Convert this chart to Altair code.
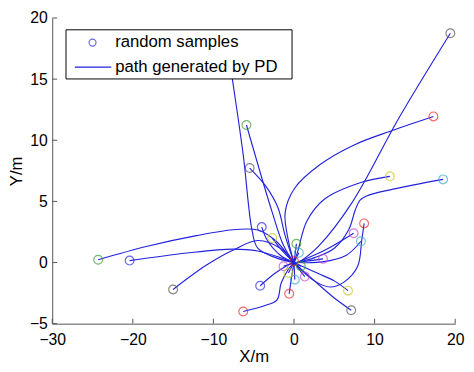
import altair as alt
import pandas as pd

x_ticks = [-30, -20, -10, 0, 10, 20]
y_ticks = [-5, 0, 5, 10, 15, 20]

sample_x = [19.4, 17.3, 11.9, 18.5, -5.9, -5.5, -8.2, -24.3, -20.4, -15.0, -6.3, -4.0, -2.7,
            0.3, 0.6, 0.0, 3.6, 7.4, 8.7, 8.3, 1.34, 0.1, -4.2, -0.6, 6.7, 7.1, -1.3, -0.7, 0.85]
sample_y = [18.75, 11.95, 7.05, 6.8, 11.25, 7.73, 17.5, 0.23, 0.16, -2.2, -4.0, 2.9, 2.0,
            1.54, 0.8, 0.1, 0.3, 2.4, 3.2, 1.74, -1.15, -1.4, -1.9, -2.55, -2.3, -3.9, -0.3, -0.85, -0.3]
sample_color = ["k", "r", "y", "c", "g", "k", "b", "g", "b", "k", "r", "b", "y",
                "g", "c", "r", "m", "m", "r", "c", "m", "c", "b", "r", "y", "k", "m", "y", "g"]

path_x = [
    [19.4, 13.0, 7.2, 3.0, 0.6],
    [17.3, 12.2, 7.4, 3.2, 0.1, -1.1, -0.7, 0.0],
    [11.9, 8.3, 3.8, 1.6, 0.5, 0.0],
    [18.5, 12.3, 9.0, 8.2, 7.6, 6.8, 5.0, 2.56, 0.4],
    [-5.9, -2.7, -1.3, 0.0],
    [-5.5, -3.5, -2.0, -1.1, 0.0],
    [-8.2, -7.6, -6.3, -5.2, -4.5, -2.3, 0.0],
    [-24.3, -18.2, -12.1, -7.2, -4.5, -2.3, -0.5, 0.0],
    [-20.4, -13.3, -7.6, -4.5, -1.7, 0.0],
    [-15.0, -10.9, -7.6, -4.5, -1.7, 0.0],
    [-6.3, -3.5, -2.1, -1.6, -0.7, 0.0],
    [-4.0, -3.3, -1.7, 0.0],
    [-2.7, -1.3, 0.0],
    [0.3, 0.0],
    [0.6, 0.0],
    [0.0, 0.0],
    [3.6, 1.5, 0.0],
    [7.4, 3.8, 0.7],
    [8.7, 8.4, 7.9, 6.2, 4.5, 2.5, 0.3],
    [8.3, 6.5, 3.5, 0.5],
    [1.34, 0.0],
    [0.1, 0.0],
    [-4.2, -2.4, -1.0, 0.0],
    [-0.6, -0.3, 0.0],
    [6.7, 5.0, 3.0, 1.0, 0.0],
    [7.1, 5.0, 2.2, 0.9, 0.0],
    [-1.3, 0.0],
    [-0.7, 0.0],
    [0.85, 0.0],
]
path_y = [
    [18.75, 11.8, 4.9, 1.3, 0.0],
    [11.95, 10.8, 9.6, 8.0, 6.1, 4.1, 1.8, 0.0],
    [7.05, 6.55, 5.2, 3.4, 1.0, 0.0],
    [6.8, 6.0, 5.45, 5.1, 4.3, 2.7, 1.17, 0.4, 0.0],
    [11.25, 4.1, 1.4, 0.0],
    [7.73, 6.25, 4.5, 2.2, 0.0],
    [17.5, 14.8, 8.8, 2.6, 1.17, 0.4, 0.0],
    [0.23, 1.33, 2.2, 2.7, 2.66, 1.8, 0.4, 0.0],
    [0.16, 0.78, 1.1, 0.94, 0.4, 0.0],
    [-2.2, -0.23, 1.0, 1.8, 1.17, 0.0],
    [-4.0, -3.5, -3.05, -1.7, -0.55, 0.0],
    [2.9, 1.8, 0.6, 0.0],
    [2.0, 0.85, 0.0],
    [1.54, 0.0],
    [0.8, 0.0],
    [0.1, 0.0],
    [0.3, 0.1, 0.0],
    [2.4, 1.0, 0.1],
    [3.2, 1.8, -0.3, -1.6, -2.0, -1.5, -0.2],
    [1.74, 0.6, 0.05, 0.0],
    [-1.15, 0.0],
    [-1.4, 0.0],
    [-1.9, -0.9, -0.3, 0.0],
    [-2.55, -1.2, 0.0],
    [-2.3, -1.5, -0.9, -0.3, 0.0],
    [-3.9, -2.9, -1.3, -0.55, 0.0],
    [-0.3, 0.0],
    [-0.85, 0.0],
    [-0.3, 0.0],
]

palette = {"b": "#2a2ae0", "g": "#3a9a3a", "r": "#ee2b2b", "c": "#3aaad8",
           "m": "#c845c8", "y": "#c8c828", "k": "#555555"}

rows = []
for i, (xs_, ys_) in enumerate(zip(path_x, path_y)):
    for j, (a, b) in enumerate(zip(xs_, ys_)):
        rows.append({"path": i, "order": j, "x": a, "y": b})
paths = pd.DataFrame(rows)
samples = pd.DataFrame({"x": sample_x, "y": sample_y,
                        "color": [palette[c] for c in sample_color]})

W, H = 410, 311
FONT = "Liberation Sans"
xs = alt.Scale(domain=[-30, 20], nice=False, zero=False)
ys = alt.Scale(domain=[-5, 20], nice=False, zero=False)

x_axis = alt.Axis(values=x_ticks, title="X/m", grid=False, ticks=False, labelPadding=8,
                  titlePadding=1, labelFlush=False)
y_axis = alt.Axis(values=y_ticks, title="Y/m", grid=False, ticks=False, labelPadding=5,
                  titlePadding=4, labelFlush=False)

X = alt.X("x:Q", scale=xs, axis=x_axis)
Y = alt.Y("y:Q", scale=ys, axis=y_axis)

lines = alt.Chart(paths).mark_line(color="#2222dd", strokeWidth=1.15,
                                   interpolate="catmull-rom").encode(
    x=X, y=Y, detail="path:N", order="order:O")

points = alt.Chart(samples).mark_point(shape="circle", filled=False, size=80,
                                       strokeWidth=1.2).encode(
    x=X, y=Y, color=alt.Color("color:N", scale=None))

xt = alt.Chart(pd.DataFrame({"x": x_ticks})).mark_rule(color="#555555").encode(
    x=X, y=alt.value(H), y2=alt.value(H - 5))
yt = alt.Chart(pd.DataFrame({"y": y_ticks})).mark_rule(color="#555555").encode(
    y=Y, x=alt.value(0), x2=alt.value(5))

one = pd.DataFrame({"a": [0]})
box = alt.Chart(one).mark_rect(fill="white", stroke="black", strokeWidth=1).encode(
    x=alt.value(14), x2=alt.value(244), y=alt.value(12), y2=alt.value(62))
leg_pt = alt.Chart(one).mark_point(shape="circle", filled=False, size=50, strokeWidth=1.2,
                                   color="#2a2ae0").encode(x=alt.value(41), y=alt.value(25))
leg_ln = alt.Chart(one).mark_rule(color="#2222dd", strokeWidth=1.15).encode(
    x=alt.value(23), x2=alt.value(60), y=alt.value(50))
leg_t1 = alt.Chart(one).mark_text(align="left", baseline="middle", fontSize=17, font=FONT,
                                  color="black").encode(
    x=alt.value(64), y=alt.value(25), text=alt.value("random samples"))
leg_t2 = alt.Chart(one).mark_text(align="left", baseline="middle", fontSize=17, font=FONT,
                                  color="black").encode(
    x=alt.value(64), y=alt.value(50), text=alt.value("path generated by PD"))

chart = alt.layer(lines, points, xt, yt, box, leg_pt, leg_ln, leg_t1, leg_t2).properties(
    width=W, height=H,
    padding={"left": 45, "top": 7, "right": 11, "bottom": 46},
    autosize=alt.AutoSizeParams(type="none"),
).configure_view(stroke=None).configure_axis(
    domainColor="#555555", labelFont=FONT, titleFont=FONT, labelFontSize=16,
    titleFontSize=17, titleFontWeight="normal", labelColor="black", titleColor="black",
)

chart.save("out.html", embed_options={"renderer": "svg", "actions": False})
